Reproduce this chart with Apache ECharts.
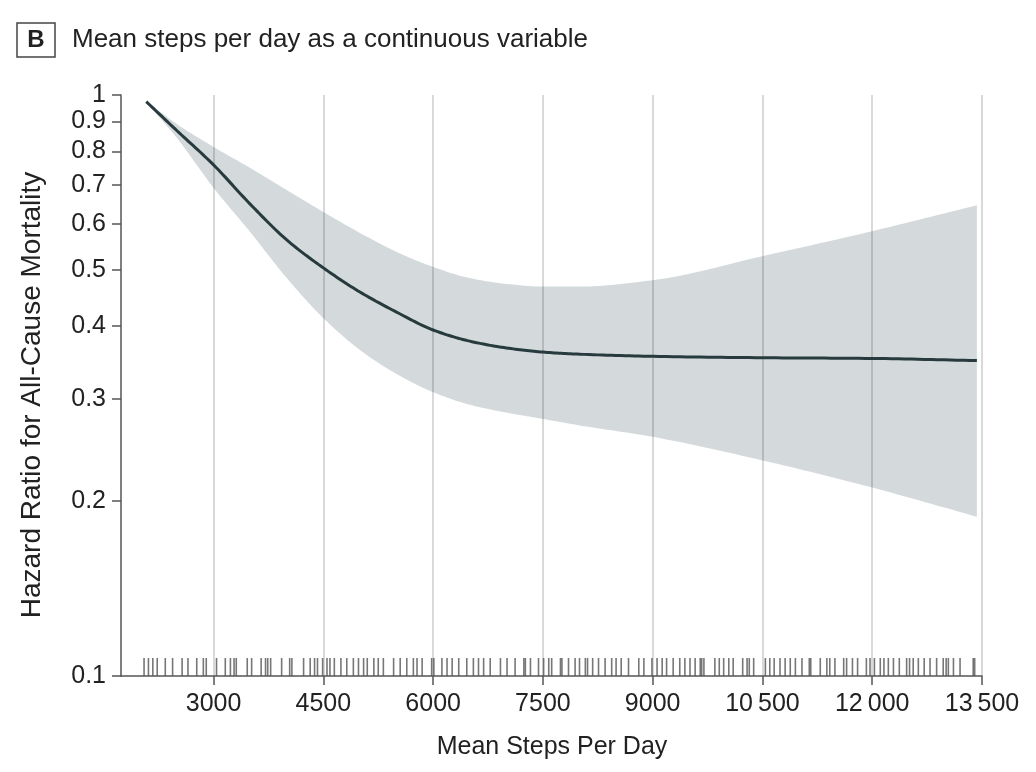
<!DOCTYPE html>
<html>
<head>
<meta charset="utf-8">
<script src="https://cdn.jsdelivr.net/npm/echarts@6/dist/echarts.min.js"></script>
<style>
  html, body { margin: 0; padding: 0; background: #fff; }
  #chart { width: 1036px; height: 772px; }
</style>
</head>
<body>
<div id="chart"></div>
<script>
// ---- data ----
const steps   = [2080, 2500, 3000, 3500, 4000, 4500, 5000, 5500, 6000, 6500, 7000, 7500, 8000, 9000, 10500, 12000, 13430];
const hrLine  = [0.974, 0.868, 0.758, 0.649, 0.563, 0.504, 0.458, 0.423, 0.394, 0.377, 0.367, 0.361, 0.358, 0.355, 0.353, 0.352, 0.349];
const hrUpper = [0.976, 0.891, 0.814, 0.749, 0.686, 0.629, 0.579, 0.537, 0.506, 0.484, 0.473, 0.468, 0.468, 0.480, 0.528, 0.583, 0.646];
const hrLower = [0.972, 0.843, 0.692, 0.581, 0.484, 0.413, 0.364, 0.331, 0.308, 0.293, 0.284, 0.277, 0.270, 0.258, 0.235, 0.211, 0.188];
const rugSteps = [
  2050, 2110, 2170, 2230, 2340, 2440, 2570, 2650, 2770, 2860, 2900, 3040, 3160, 3230, 3280, 3310,
  3460, 3520, 3650, 3710, 3740, 3780, 3930, 4040, 4070, 4230, 4320, 4380, 4420, 4490, 4550, 4590,
  4650, 4740, 4820, 4910, 4980, 5050, 5100, 5190, 5250, 5320, 5460, 5550, 5640, 5730, 5780, 5850,
  5980, 6010, 6120, 6190, 6260, 6350, 6460, 6550, 6620, 6690, 6780, 6920, 7010, 7120, 7240, 7260,
  7330, 7440, 7510, 7580, 7620, 7740, 7760, 7850, 7940, 8000, 8080, 8110, 8180, 8260, 8350, 8440,
  8500, 8570, 8670, 8810, 8880, 8990, 9060, 9130, 9190, 9280, 9370, 9440, 9510, 9580, 9650, 9670,
  9700, 9850, 9910, 9970, 10040, 10100, 10230, 10290, 10320, 10380, 10540, 10600, 10660, 10740, 10810,
  10880, 10950, 11040, 11140, 11160, 11290, 11380, 11420, 11490, 11610, 11650, 11730, 11800, 11920,
  11970, 12030, 12110, 12160, 12220, 12290, 12370, 12470, 12510, 12560, 12630, 12710, 12790, 12880,
  12970, 13010, 13040, 13110, 13200, 13380, 13400
];
const xTicks = [3000, 4500, 6000, 7500, 9000, 10500, 12000, 13500];
const yTicks = [0.1, 0.2, 0.3, 0.4, 0.5, 0.6, 0.7, 0.8, 0.9, 1];
const titleText = 'Mean steps per day as a continuous variable';
const panelLetter = 'B';
const xName = 'Mean Steps Per Day';
const yName = 'Hazard Ratio for All-Cause Mortality';

const FONT = '"Liberation Sans", Arial, sans-serif';
const TXT = '#222';
const AX = '#555';

const chart = echarts.init(document.getElementById('chart'), null, { renderer: 'canvas' });

function fmtX(v) {
  v = Math.round(v);
  if (v >= 10000) {
    const s = String(v);
    return s.slice(0, s.length - 3) + '\u2009' + s.slice(-3);
  }
  return String(v);
}
function fmtY(v) {
  const r = Math.round(v * 10) / 10;
  return r === 1 ? '1' : r.toFixed(1);
}

// Smooth drawing of a path through pixel points (monotone cubic in x)
function smoothPixels(px, sub) {
  const n = px.length;
  const dx = [], m = [], t = [];
  for (let i = 0; i < n - 1; i++) {
    dx[i] = px[i + 1][0] - px[i][0];
    m[i] = (px[i + 1][1] - px[i][1]) / dx[i];
  }
  t[0] = m[0]; t[n - 1] = m[n - 2];
  for (let i = 1; i < n - 1; i++) {
    if (m[i - 1] * m[i] <= 0) t[i] = 0;
    else t[i] = 3 * (dx[i - 1] + dx[i]) / ((2 * dx[i] + dx[i - 1]) / m[i - 1] + (dx[i] + 2 * dx[i - 1]) / m[i]);
  }
  const out = [];
  for (let i = 0; i < n - 1; i++) {
    const h = dx[i], y0 = px[i][1], y1 = px[i + 1][1];
    for (let k = 0; k < sub; k++) {
      const s = k / sub, s2 = s * s, s3 = s2 * s;
      const h00 = 2 * s3 - 3 * s2 + 1, h10 = s3 - 2 * s2 + s, h01 = -2 * s3 + 3 * s2, h11 = s3 - s2;
      out.push([px[i][0] + s * h, h00 * y0 + h10 * h * t[i] + h01 * y1 + h11 * h * t[i + 1]]);
    }
  }
  out.push(px[n - 1].slice());
  return out;
}

chart.setOption({
  animation: false,
  backgroundColor: '#fff',
  grid: { left: 121, right: 54, top: 95, bottom: 96, containLabel: false },
  xAxis: {
    type: 'value',
    min: 1735,
    max: 13500,
    z: 3,
    axisLine: { show: true, lineStyle: { color: AX, width: 1.5 } },
    axisTick: { show: true, customValues: xTicks, length: 9, lineStyle: { color: AX, width: 1.5 } },
    axisLabel: { customValues: xTicks, formatter: fmtX, margin: 16, color: TXT, fontSize: 25, fontFamily: FONT },
    splitLine: { show: true, lineStyle: { color: 'rgba(0,0,0,0.15)', width: 2 } }
  },
  yAxis: {
    type: 'log',
    logBase: 10,
    min: 0.1,
    max: 1,
    z: 3,
    axisLine: { show: true, lineStyle: { color: AX, width: 1.5 } },
    axisTick: { show: true, customValues: yTicks, length: 9, lineStyle: { color: AX, width: 1.5 } },
    axisLabel: { customValues: yTicks, formatter: fmtY, margin: 15, color: TXT, fontSize: 25, fontFamily: FONT },
    splitLine: { show: false },
    minorTick: { show: false },
    minorSplitLine: { show: false }
  },
  series: [
    {
      name: 'CI band',
      type: 'custom',
      silent: true,
      z: 1,
      data: [[steps[0], hrUpper[0]]],
      renderItem: function (params, api) {
        const up = smoothPixels(steps.map((s, i) => api.coord([s, hrUpper[i]])), 16);
        const lo = smoothPixels(steps.map((s, i) => api.coord([s, hrLower[i]])), 16);
        return {
          type: 'polygon',
          shape: { points: up.concat(lo.reverse()) },
          style: { fill: '#d4dadb', stroke: null }
        };
      }
    },
    {
      name: 'HR',
      type: 'custom',
      silent: true,
      z: 5,
      data: [[steps[0], hrLine[0]]],
      renderItem: function (params, api) {
        const pts = smoothPixels(steps.map((s, i) => api.coord([s, hrLine[i]])), 16);
        return {
          type: 'polyline',
          shape: { points: pts },
          style: { fill: null, stroke: '#273b3e', lineWidth: 3, lineJoin: 'round', lineCap: 'butt' }
        };
      }
    },
    {
      name: 'rug',
      type: 'scatter',
      silent: true,
      symbol: 'rect',
      symbolSize: [1.6, 18],
      symbolOffset: [0, -9],
      itemStyle: { color: '#555' },
      data: rugSteps.map(s => [s, 0.1]),
      z: 4
    }
  ],
  graphic: [
    { type: 'rect', shape: { x: 17, y: 23, width: 38, height: 34 }, style: { fill: '#fff', stroke: '#444', lineWidth: 1.5 } },
    { type: 'text', x: 36, y: 40, style: { text: panelLetter, font: 'bold 24px ' + FONT, fill: TXT, align: 'center', verticalAlign: 'middle' } },
    { type: 'text', x: 72, y: 40, style: { text: titleText, font: '26px ' + FONT, fill: TXT, align: 'left', verticalAlign: 'middle' } },
    { type: 'text', x: 552, y: 747, style: { text: xName, font: '25px ' + FONT, fill: TXT, align: 'center', verticalAlign: 'middle' } },
    { type: 'text', x: 32, y: 395, rotation: Math.PI / 2, style: { text: yName, font: '28px ' + FONT, fill: TXT, align: 'center', verticalAlign: 'middle' } }
  ]
});
</script>
</body>
</html>
